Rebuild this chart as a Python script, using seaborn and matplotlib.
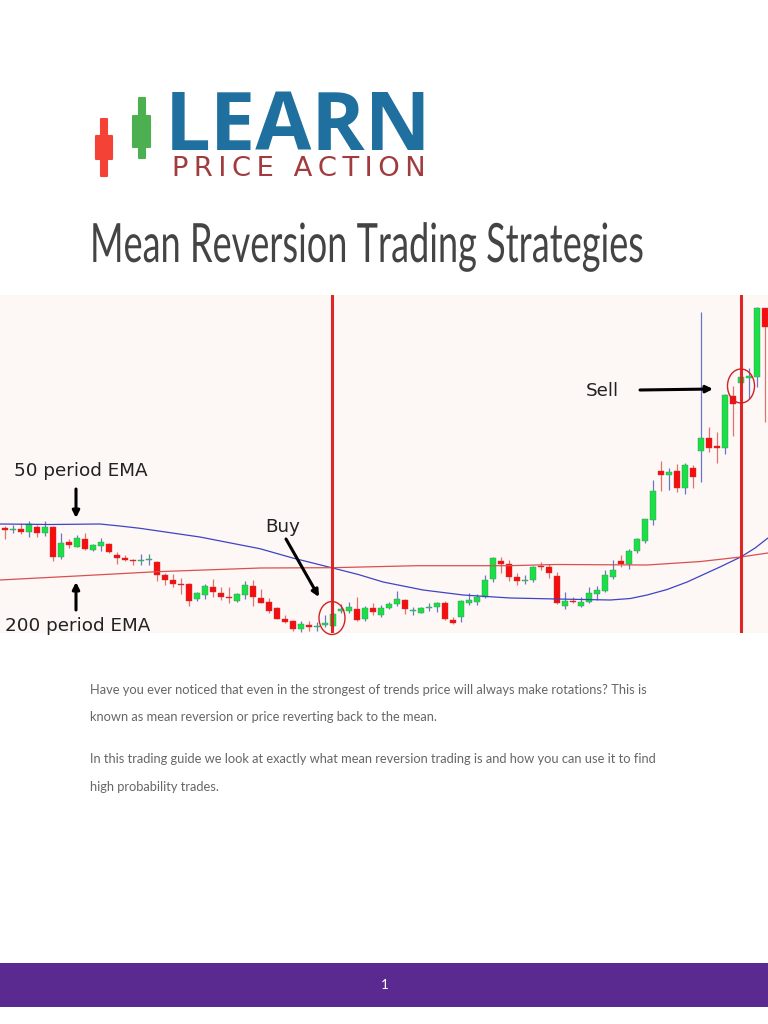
import numpy as np
import pandas as pd
import matplotlib
matplotlib.use('Agg')
import matplotlib.pyplot as plt
from matplotlib.patches import Ellipse, Rectangle
from matplotlib.patheffects import AbstractPathEffect
from matplotlib.transforms import Affine2D
import seaborn as sns

# Candles, price = height above the chart bottom
opens = [105, 103, 103.7, 101, 105.7, 99.7, 105.7, 75.7, 90.7, 86.3, 94, 83.3, 87.3, 89, 77.7, 75.3,
         73.3, 72.3, 73.3, 71, 58.3, 52.7, 48.7, 48.7, 34.3, 38.3, 46, 39.7, 36, 31.7, 38.3, 47,
         35.3, 31, 24.7, 14, 12, 3.7, 8.3, 6, 7.7, 7, 21.7, 22, 24.3, 13.7, 24.7, 17.7,
         25, 29.3, 33.3, 22, 20.3, 25, 26.3, 29.7, 13, 16.3, 29.7, 31.3, 36.3, 53.7, 72.3, 68.7,
         56.3, 52.3, 53, 67, 65.7, 57, 27.3, 32, 27.3, 31, 39.3, 42.3, 56, 72, 68.7, 82,
         92, 113, 162.3, 158.3, 161.7, 145.3, 165.3, 182, 195.3, 186.7, 185.3, 236.7, 249.7, 255.3, 256.3, 324.7]
closes = [103, 104.3, 100.7, 109, 100, 106, 76.3, 90.3, 88, 94.7, 84, 87.7, 91, 81.3, 74.7, 73,
          72, 73.3, 74.3, 58.3, 53, 49, 48, 32, 40, 47, 40.7, 36, 35, 38.7, 48, 35.7,
          30.3, 22, 14, 11, 3.7, 9, 6, 7, 10.3, 18.7, 24.3, 25.7, 12.7, 25.3, 20.7, 25.3,
          29.3, 33.7, 24, 23, 24.7, 26.3, 30, 14, 10.3, 31.7, 33, 36, 52.7, 75.3, 68.7, 56.3,
          52, 53.3, 65.7, 66, 59.7, 29.7, 32, 30.7, 30.7, 39.7, 43.3, 57.7, 63.3, 68.7, 81.7, 94.3,
          113.7, 141.7, 158.3, 161.3, 145.3, 168, 156, 195.3, 185, 185.3, 238.3, 229, 256, 257.3, 325.3, 306]
highs = [107, 107.7, 110.3, 112.3, 108, 112.3, 107, 99.7, 93.7, 97.7, 99.7, 88.7, 95, 90.3, 81.3, 78.3,
         74.3, 79, 79, 71.7, 60.3, 59, 55, 49.7, 41.3, 48.7, 53.7, 46.3, 46.3, 40.3, 52.3, 53,
         43.7, 34.7, 25.7, 18, 13, 11.7, 12.3, 11.3, 18, 21.3, 29, 31, 35.7, 27, 29.7, 27.7,
         31, 42.3, 34.3, 25.7, 26.3, 29.7, 31.3, 32.3, 16.3, 33, 39.7, 39, 58.3, 75.7, 75.7, 73,
         59.7, 58, 67.3, 70.7, 68.7, 61.3, 41.3, 36.3, 36.3, 46.3, 46.7, 63, 73, 78, 84, 95.3,
         114, 153, 172, 164.7, 168.7, 169.7, 168, 321.3, 206.3, 200.7, 239, 247.3, 258, 264.7, 326, 325.3]
lows = [93.7, 100.3, 99, 95.7, 95.7, 97, 72.3, 73.7, 85, 85.7, 83, 81.7, 82.3, 79.7, 69, 71.7,
        68, 68, 68, 52.3, 48.3, 46.3, 39, 27, 32, 33.7, 36.3, 33, 29.7, 31, 34.3, 27,
        29.7, 19.7, 13.7, 9.7, 2.3, 1, 2.3, 2.3, 5.7, 6.3, 20.3, 20.3, 12.3, 12.3, 17.7, 16.3,
        24.3, 27, 19, 18.3, 19.7, 22.3, 21, 13, 9, 11.3, 28, 27.7, 35, 51.3, 60.3, 52,
        48, 48.7, 51.3, 63, 54.7, 28.7, 24, 29.7, 26.3, 29.7, 33, 40.7, 54, 66.3, 64, 79.7,
        89.7, 108, 142, 143, 140.7, 138.7, 144.7, 151.3, 180.7, 170, 179.3, 197.3, 248, 234, 246.3, 211.3]

# Moving averages as (candle number, price)
ema50_x = [-0.6, 5.7, 11.9, 14.4, 16.9, 24.4, 31.9, 36, 41, 44.2, 47.3, 49.8, 52.3, 57.3, 63.2,
           69, 75.7, 78.2, 80.3, 82.8, 85.3, 89.4, 92, 93.8, 95.4]
ema50_y = [109, 108.5, 109, 107, 104.7, 96, 84.3, 75, 65, 58.5, 51, 47, 43, 38, 35,
           34, 33, 34.5, 38, 43.5, 51, 66, 76, 85, 95]
ema200_x = [-0.6, 9, 19, 32, 41, 51.5, 63, 69, 80.3, 87, 92, 95.4]
ema200_y = [53, 57, 61.3, 65, 65.3, 67.3, 67.3, 68.5, 68, 71.5, 76, 80]

# Entry and exit candles
buy_candle = 41
sell_candle = 92


class TallText(AbstractPathEffect):
    # stretches a text upward from its baseline, the fonts here have no condensed cut
    def __init__(self, factor, baseline):
        self.factor = factor
        self.baseline = baseline

    def draw_path(self, renderer, gc, tpath, affine, rgbFace=None):
        stretch = Affine2D().translate(0, -self.baseline).scale(1, self.factor).translate(0, self.baseline)
        renderer.draw_path(gc, tpath, affine + stretch, rgbFace)


candles = pd.DataFrame({'open': opens, 'close': closes, 'high': highs, 'low': lows})
candles['n'] = candles.index
up = candles[candles['close'] >= candles['open']]
down = candles[candles['close'] < candles['open']]

sns.set_theme(style='white')
plt.rcParams['font.family'] = ['Open Sans', 'DejaVu Sans']

fig = plt.figure(figsize=(7.68, 10.24), dpi=100, facecolor='white')

# Price chart
ax = fig.add_axes([0, (1024 - 633) / 1024, 1, 338 / 1024], facecolor='#fdf8f6')
ax.vlines(up['n'], up['low'], up['high'], color='#6a76c8', lw=0.9, zorder=2)
ax.vlines(down['n'], down['low'], down['high'], color='#e27272', lw=0.9, zorder=2)
ax.bar(up['n'], up['close'] - up['open'], bottom=up['open'], width=0.8,
       color='#1be045', edgecolor='#3f8f66', lw=0.3, zorder=3)
ax.bar(down['n'], down['open'] - down['close'], bottom=down['close'], width=0.8,
       color='#f50e0e', edgecolor='#c04040', lw=0.3, zorder=3)
sns.lineplot(x=ema50_x, y=ema50_y, color='#3f43c4', lw=0.9, ax=ax, zorder=4)
sns.lineplot(x=ema200_x, y=ema200_y, color='#d85050', lw=0.9, ax=ax, zorder=4)
ax.axvline(buy_candle - 0.1, color='#dc1c1c', lw=2.2, zorder=5, alpha=0.95)
ax.axvline(sell_candle, color='#dc1c1c', lw=2.2, zorder=5, alpha=0.95)
ax.set_xlim(-0.5875, 95.41)
ax.set_ylim(0, 338)
ax.set_xticks([])
ax.set_yticks([])
sns.despine(ax=ax, left=True, bottom=True)

# Page layer in pixels
page = fig.add_axes([0, 0, 1, 1], facecolor='none')
page.set_xlim(0, 768)
page.set_ylim(1024, 0)
page.axis('off')

# Logo, the wide edge with a round join softens the corners
logo_red = dict(facecolor='#f44336', edgecolor='#f44336', lw=1.5, joinstyle='round')
logo_green = dict(facecolor='#4caf50', edgecolor='#4caf50', lw=1.5, joinstyle='round')
page.add_patch(Rectangle((101, 119), 6, 57, **logo_red))
page.add_patch(Rectangle((96, 136), 16, 23, **logo_red))
page.add_patch(Rectangle((139, 98), 6, 60, **logo_green))
page.add_patch(Rectangle((133, 116), 17, 31, **logo_green))
page.text(165, 150, 'LEARN', fontsize=58.5, fontweight='bold', color='#1f709f',
          family=['Open Sans', 'DejaVu Sans'], va='baseline', ha='left')
page.text(172, 176, '\u2009'.join('PRICE ACTION'), fontsize=19.7, color='#a13c3e',
          family=['DejaVu Sans'], va='baseline', ha='left')

# Title
title = page.text(90, 262, 'Mean Reversion Trading Strategies', fontsize=26, color='#444444',
                  family=['Lato', 'DejaVu Sans'], va='baseline', ha='left')
title.set_path_effects([TallText(1.5, 1024 - 262)])

# Chart notes
note = dict(family=['DejaVu Sans'], color='#222222', va='center', ha='left', fontsize=13.2)
page.text(14, 471, '50 period EMA', **note)
page.text(5, 626, '200 period EMA', **note)
page.text(265, 527, 'Buy', **note)
page.text(586, 391, 'Sell', **note)
arrow = dict(arrowstyle='-|>', color='black', lw=2.2, mutation_scale=10, shrinkA=0, shrinkB=0)
page.annotate('', xy=(76, 518), xytext=(76, 489), arrowprops=arrow)
page.annotate('', xy=(76, 582), xytext=(76, 610), arrowprops=arrow)
page.annotate('', xy=(319, 597), xytext=(286, 539), arrowprops=arrow)
page.annotate('', xy=(713, 389), xytext=(640, 390), arrowprops=arrow)
page.add_patch(Ellipse((332, 618), 26, 33, fill=False, edgecolor='#d42020', lw=1))
page.add_patch(Ellipse((741, 386), 27, 34, fill=False, edgecolor='#d42020', lw=1))

# Intro text
body = dict(fontsize=9.3, color='#666666', va='center', ha='left', family=['Lato', 'DejaVu Sans'])
page.text(90, 690, 'Have you ever noticed that even in the strongest of trends price will always make rotations? This is', **body)
page.text(90, 717, 'known as mean reversion or price reverting back to the mean.', **body)
page.text(90, 759, 'In this trading guide we look at exactly what mean reversion trading is and how you can use it to find', **body)
page.text(90, 787, 'high probability trades.', **body)

# Footer
page.add_patch(Rectangle((0, 963), 768, 44, color='#5b2a91', lw=0))
page.text(385, 985, '1', fontsize=9.5, color='white', ha='center', va='center',
          family=['Lato', 'DejaVu Sans'])

fig.savefig('out.png', dpi=100, facecolor='white')
plt.close(fig)
